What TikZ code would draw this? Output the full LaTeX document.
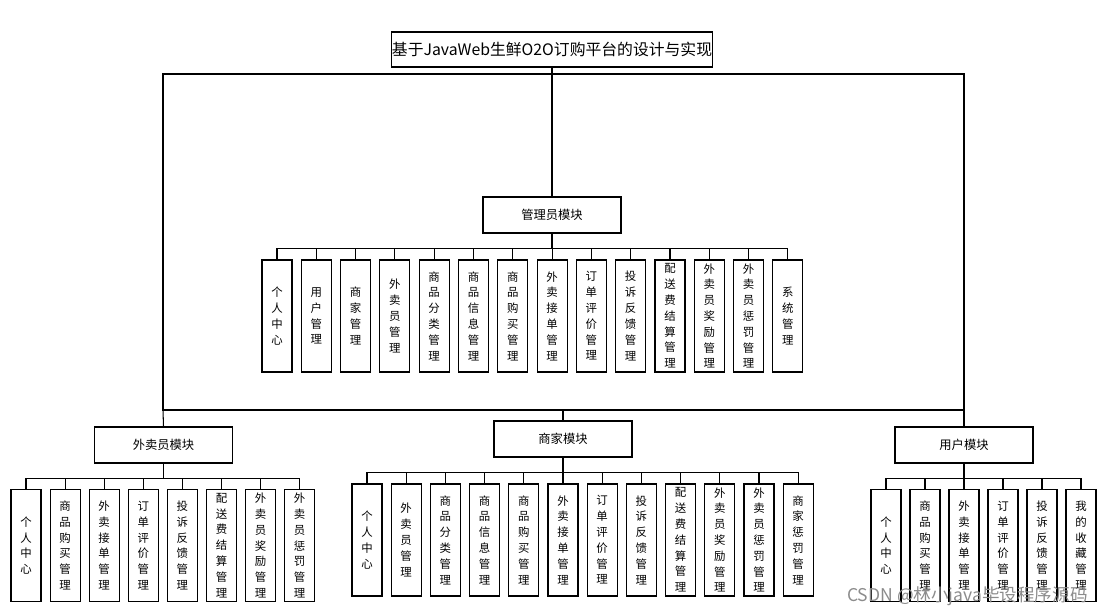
\documentclass[tikz,border=0pt]{standalone}
\usepackage{fontspec}
\newfontfamily\cjk{Noto Sans CJK SC}
\begin{document}
\begin{tikzpicture}[x=0.02cm,y=-0.02cm,line width=0.6pt,
 mod/.style={draw,minimum width=2.76cm,minimum height=0.72cm,inner sep=0,font=\cjk\fontsize{7}{8}\selectfont},
 leaf/.style={draw,minimum width=0.6cm,minimum height=2.24cm,inner sep=0,align=center,font=\cjk\fontsize{6.5}{9}\selectfont},
 conn/.style={draw,line width=0.6pt}]
\useasboundingbox (0,0) rectangle (1106,615);
\node[draw,minimum width=6.28cm,minimum height=0.7cm,inner sep=0,font=\cjk\fontsize{9}{10}\selectfont] (title) at (552,49.5) {基于JavaWeb生鲜O2O订购平台的设计与实现};
\node[mod] (admin) at (552,215) {管理员模块};
\node[mod] (rider) at (163.5,445) {外卖员模块};
\node[mod] (shop) at (563,439) {商家模块};
\node[mod] (user) at (964,445) {用户模块};
\coordinate (tl) at (163,74); \coordinate (tr) at (964,74);
\coordinate (bl) at (163,410); \coordinate (br) at (964,410);
\coordinate (bm) at (563,410);
\draw (tl) -- (tr) -- (br) -- (bl) -- cycle;
\draw (title.south) -- (admin.north);
\draw (bl) -- (rider.north);
\draw (br) -- (user.north);
\draw (bm) -- (shop.north);
\foreach \t [count=\i] in {{个\\人\\中\\心},{用\\户\\管\\理},{商\\家\\管\\理},{外\\卖\\员\\管\\理},{商\\品\\分\\类\\管\\理},{商\\品\\信\\息\\管\\理},{商\\品\\购\\买\\管\\理},{外\\卖\\接\\单\\管\\理},{订\\单\\评\\价\\管\\理},{投\\诉\\反\\馈\\管\\理},{配\\送\\费\\结\\算\\管\\理},{外\\卖\\员\\奖\\励\\管\\理},{外\\卖\\员\\惩\\罚\\管\\理},{系\\统\\管\\理}}{
 \node[leaf] (a\i) at ({277+39.3*(\i-1)},316) {\t};
 \draw (admin.south) -- ++(0,15) -| (a\i.north);}
\foreach \t [count=\i] in {{个\\人\\中\\心},{商\\品\\购\\买\\管\\理},{外\\卖\\接\\单\\管\\理},{订\\单\\评\\价\\管\\理},{投\\诉\\反\\馈\\管\\理},{配\\送\\费\\结\\算\\管\\理},{外\\卖\\员\\奖\\励\\管\\理},{外\\卖\\员\\惩\\罚\\管\\理}}{
 \node[leaf] (r\i) at ({26+39.1*(\i-1)},545.5) {\t};
 \draw (rider.south) -- ++(0,15) -| (r\i.north);}
\foreach \t [count=\i] in {{个\\人\\中\\心},{外\\卖\\员\\管\\理},{商\\品\\分\\类\\管\\理},{商\\品\\信\\息\\管\\理},{商\\品\\购\\买\\管\\理},{外\\卖\\接\\单\\管\\理},{订\\单\\评\\价\\管\\理},{投\\诉\\反\\馈\\管\\理},{配\\送\\费\\结\\算\\管\\理},{外\\卖\\员\\奖\\励\\管\\理},{外\\卖\\员\\惩\\罚\\管\\理},{商\\家\\惩\\罚\\管\\理}}{
 \node[leaf] (s\i) at ({367+39.2*(\i-1)},540) {\t};
 \draw (shop.south) -- ++(0,15) -| (s\i.north);}
\foreach \t [count=\i] in {{个\\人\\中\\心},{商\\品\\购\\买\\管\\理},{外\\卖\\接\\单\\管\\理},{订\\单\\评\\价\\管\\理},{投\\诉\\反\\馈\\管\\理},{我\\的\\收\\藏\\管\\理}}{
 \node[leaf] (u\i) at ({886+39*(\i-1)},545.5) {\t};
 \draw (user.south) -- ++(0,15) -| (u\i.north);}
\node[font=\cjk\fontsize{10}{11}\selectfont,text=black!45,anchor=east] (wm) at (1094,596) {CSDN @林小java毕设程序源码};
\end{tikzpicture}
\end{document}
